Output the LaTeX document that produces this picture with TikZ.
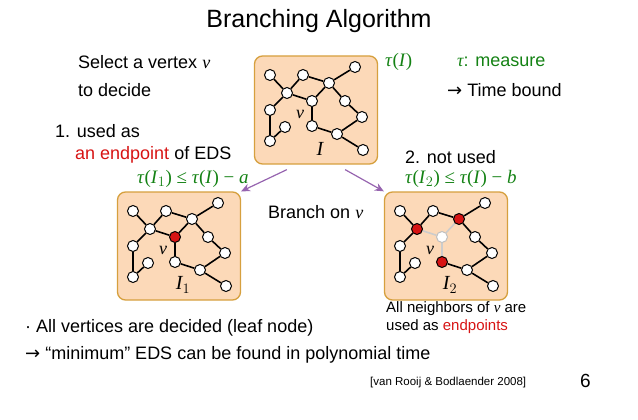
\documentclass[tikz,border=0pt]{standalone}
\usepackage{fontspec}
\setmainfont{Liberation Sans}
\newfontfamily\serif{Liberation Serif}
\newfontfamily\djv{DejaVu Sans}
\usetikzlibrary{arrows.meta}
\definecolor{boxfill}{RGB}{252,217,184}
\definecolor{boxline}{RGB}{214,160,62}
\definecolor{grn}{RGB}{20,130,20}
\definecolor{rd}{RGB}{215,20,20}
\definecolor{prp}{RGB}{150,100,175}
\newcommand\mv[1]{{\serif\itshape #1}}
\newcommand\rarr{{\djv →}}
\pgfdeclarelayer{boxlayer}
\pgfdeclarelayer{edgelayer}
\pgfsetlayers{boxlayer,edgelayer,main}
\tikzset{
  x=1pt,y=-1pt,
  vtx/.style={circle,draw=black,fill=white,line width=1pt,minimum size=11pt,inner sep=0pt},
  redv/.style={vtx,fill=rd},
  greyv/.style={vtx,draw=black!25,fill=white},
  edge/.style={line width=1.6pt},
  gedge/.style={line width=1.6pt,draw=black!20},
  gbox/.style={draw=boxline,fill=boxfill,line width=1.3pt,rounded corners=8pt},
  txt/.style={anchor=west,inner sep=0pt,font=\fontsize{18}{20}\selectfont},
  small/.style={anchor=west,inner sep=0pt,font=\fontsize{15}{17}\selectfont},
  br/.style={-{Stealth[length=9pt,width=8pt]},draw=prp,line width=1.2pt}
}
% #1 prefix, #2 dx, #3 dy, #4 style v, #5 style neighbors, #6 edge style v, #7 label
\newcommand\drawgr[7]{
  \node[vtx] (#1A) at (#2+270,#3+75) {};
  \node[vtx] (#1B) at (#2+303,#3+75) {};
  \node[vtx] (#1C) at (#2+355,#3+67) {};
  \node[#5] (#1D) at (#2+287,#3+93) {};
  \node[#5] (#1E) at (#2+329,#3+83) {};
  \node[#4] (#1F) at (#2+312,#3+101) {};
  \node[vtx] (#1G) at (#2+345,#3+101) {};
  \node[vtx] (#1H) at (#2+270,#3+110) {};
  \node[vtx] (#1I) at (#2+362,#3+117) {};
  \node[vtx] (#1J) at (#2+285,#3+127) {};
  \node[#5] (#1K) at (#2+312,#3+126) {};
  \node[vtx] (#1L) at (#2+270,#3+141) {};
  \node[vtx] (#1M) at (#2+337,#3+134) {};
  \node[vtx] (#1N) at (#2+363,#3+150) {};
  \node[font=\fontsize{18}{20}\selectfont] (#1v) at (#2+300,#3+114) {\mv{v}};
  \node[font=\fontsize{20}{22}\selectfont] (#1lab) at (#2+320,#3+149) {#7};
  \begin{pgfonlayer}{boxlayer}
  \node[gbox,minimum width=123pt,minimum height=108pt] (#1box) at (#2+316,#3+110) {};
  \end{pgfonlayer}
  \begin{pgfonlayer}{edgelayer}
  \draw[edge] (#1A)--(#1D) (#1D)--(#1B) (#1B)--(#1E) (#1E)--(#1C)
     (#1D)--(#1H) (#1H)--(#1L) (#1L)--(#1J) (#1E)--(#1G) (#1G)--(#1I)
     (#1I)--(#1M) (#1M)--(#1K) (#1M)--(#1N);
  \draw[#6] (#1D)--(#1F) (#1F)--(#1E) (#1F)--(#1K);
  \end{pgfonlayer}
}
\begin{document}
\begin{tikzpicture}
\useasboundingbox (0,0) rectangle (638,420);
\node[font=\fontsize{25}{28}\selectfont] (title) at (319,21) {Branching Algorithm};
\node[txt] (sel) at (78,62) {Select a vertex \mv{v}};
\node[txt] (dec) at (78,90) {to decide};
\node[txt,text=grn,font=\serif\fontsize{19}{21}\selectfont] (tauI) at (385,62) {\textit{τ}(\textit{I})};
\node[txt,text=grn] (meas) at (457,62) {\mv{τ}: measure};
\node[txt] (tb) at (447,90) {\rarr\ Time bound};
\node[txt] (u1) at (55,131) {1. used as};
\node[txt] (u2) at (75,155) {\textcolor{rd}{an endpoint} of EDS};
\node[txt] (n2) at (405,157) {2. not used};
\node[txt,text=grn,font=\serif\fontsize{19}{21}\selectfont] (t1) at (137,179) {\textit{τ}(\textit{I}$_1$) ≤ \textit{τ}(\textit{I}) − \textit{a}};
\node[txt,text=grn,font=\serif\fontsize{19}{21}\selectfont] (t2) at (405,179) {\textit{τ}(\textit{I}$_2$) ≤ \textit{τ}(\textit{I}) − \textit{b}};
\drawgr{g}{0}{0}{vtx}{vtx}{edge}{\mv{I}}
\drawgr{a}{-137}{136}{redv}{vtx}{edge}{\mv{I}$_1$}
\drawgr{b}{130}{136}{greyv}{redv}{gedge}{\mv{I}$_2$}
\node[txt] (bron) at (268,212) {Branch on \mv{v}};
\path (gbox.south west) ++(33,5) coordinate (s1);
\path (gbox.south east) ++(-33,5) coordinate (s2);
\draw[br] (s1) -- (abox.north east);
\draw[br] (s2) -- (bbox.north west);
\node[small] (nb1) at (386,309) {All neighbors of \mv{v} are};
\node[small] (nb2) at (386,327) {used as \textcolor{rd}{endpoints}};
\node[txt] (leaf) at (25,328) {· All vertices are decided (leaf node)};
\node[txt] (min) at (25,355) {\rarr\ “minimum” EDS can be found in polynomial time};
\node[anchor=west,inner sep=0pt,font=\fontsize{11.5}{13}\selectfont] (cit) at (370,383) {[van Rooij \& Bodlaender 2008]};
\node[txt,font=\fontsize{19}{21}\selectfont] (pg) at (580,381) {6};
\end{tikzpicture}
\end{document}
